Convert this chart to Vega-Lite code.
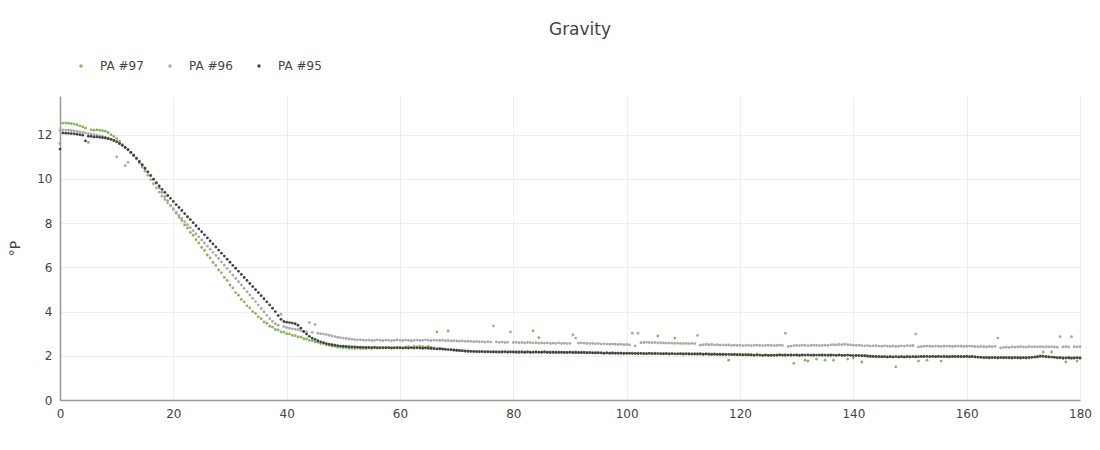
{
  "$schema": "https://vega.github.io/schema/vega-lite/v6.json",
  "autosize": {"type": "none"},
  "padding": {"left": 60, "top": 96, "right": 20, "bottom": 50},
  "width": 1020,
  "height": 304,
  "background": "white",
  "title": {"text": "Gravity", "fontSize": 17, "fontWeight": "normal", "color": "#444444", "font": "DejaVu Sans", "anchor": "middle", "dx": 10, "offset": 21},
  "config": {
    "view": {"stroke": null},
    "font": "DejaVu Sans",
    "axis": {"domainColor": "#999999", "domainWidth": 1.5, "gridColor": "#eeeeee", "ticks": false, "labelColor": "#444444", "labelFontSize": 12, "labelPadding": 8, "labelFlush": false, "titleColor": "#444444", "titleFontWeight": "normal", "titleFontSize": 14}
  },
  "data": {"values": [
{"t":0,"a":11.6,"b":12.2,"c":11.35},
{"t":0.5,"a":12.52,"b":12.22,"c":12.08},
{"t":1,"a":12.53,"b":12.21,"c":12.07},
{"t":1.5,"a":12.52,"b":12.2,"c":12.06},
{"t":2,"a":12.5,"b":12.19,"c":12.05},
{"t":2.5,"a":12.48,"b":12.17,"c":12.04},
{"t":3,"a":12.45,"b":12.15,"c":12.02},
{"t":3.5,"a":12.4,"b":12.13,"c":12.0},
{"t":4,"a":12.36,"b":12.1,"c":11.98},
{"t":4.5,"a":12.3,"b":12.08,"c":11.72},
{"t":5,"a":11.65,"b":12.05,"c":11.93},
{"t":5.5,"a":12.22,"b":12.03,"c":11.92},
{"t":6,"a":12.2,"b":12.0,"c":11.9},
{"t":6.5,"a":12.22,"b":11.98,"c":11.9},
{"t":7,"a":12.2,"b":11.95,"c":11.88},
{"t":7.5,"a":12.18,"b":11.92,"c":11.86},
{"t":8,"a":12.16,"b":11.88,"c":11.85},
{"t":8.5,"a":12.1,"b":11.84,"c":11.82},
{"t":9,"a":12.0,"b":11.79,"c":11.79},
{"t":9.5,"a":11.92,"b":11.73,"c":11.74},
{"t":10,"a":11.82,"b":11.0,"c":11.68},
{"t":10.5,"a":11.7,"b":11.6,"c":11.6},
{"t":11,"a":11.56,"b":11.52,"c":11.52},
{"t":11.5,"a":11.44,"b":10.6,"c":11.42},
{"t":12,"a":11.32,"b":10.75,"c":11.32},
{"t":12.5,"a":11.2,"b":11.2,"c":11.2},
{"t":13,"a":11.08,"b":11.05,"c":11.07},
{"t":13.5,"a":10.95,"b":10.9,"c":10.93},
{"t":14,"a":10.8,"b":10.72,"c":10.78},
{"t":14.5,"a":10.65,"b":10.54,"c":10.63},
{"t":15,"a":10.5,"b":10.35,"c":10.47},
{"t":15.5,"a":10.33,"b":10.16,"c":10.31},
{"t":16,"a":10.16,"b":9.97,"c":10.15},
{"t":16.5,"a":9.98,"b":9.78,"c":9.99},
{"t":17,"a":9.8,"b":9.59,"c":9.83},
{"t":17.5,"a":9.6,"b":9.4,"c":9.68},
{"t":18,"a":9.4,"b":9.22,"c":9.53},
{"t":18.5,"a":9.2,"b":9.07,"c":9.39},
{"t":19,"a":9.02,"b":8.92,"c":9.25},
{"t":19.5,"a":8.8,"b":8.78,"c":9.12},
{"t":20,"a":8.62,"b":8.65,"c":8.98},
{"t":20.5,"a":8.45,"b":8.5,"c":8.84},
{"t":21,"a":8.26,"b":8.35,"c":8.71},
{"t":21.5,"a":8.12,"b":8.21,"c":8.57},
{"t":22,"a":7.92,"b":8.07,"c":8.43},
{"t":22.5,"a":7.78,"b":7.93,"c":8.29},
{"t":23,"a":7.58,"b":7.8,"c":8.16},
{"t":23.5,"a":7.45,"b":7.66,"c":8.02},
{"t":24,"a":7.25,"b":7.52,"c":7.88},
{"t":24.5,"a":7.1,"b":7.38,"c":7.74},
{"t":25,"a":6.9,"b":7.24,"c":7.61},
{"t":25.5,"a":6.77,"b":7.1,"c":7.47},
{"t":26,"a":6.56,"b":6.96,"c":7.33},
{"t":26.5,"a":6.43,"b":6.82,"c":7.19},
{"t":27,"a":6.22,"b":6.68,"c":7.06},
{"t":27.5,"a":6.09,"b":6.54,"c":6.92},
{"t":28,"a":5.88,"b":6.4,"c":6.78},
{"t":28.5,"a":5.75,"b":6.25,"c":6.64},
{"t":29,"a":5.54,"b":6.1,"c":6.51},
{"t":29.5,"a":5.41,"b":5.95,"c":6.37},
{"t":30,"a":5.2,"b":5.8,"c":6.23},
{"t":30.5,"a":5.07,"b":5.65,"c":6.09},
{"t":31,"a":4.86,"b":5.5,"c":5.96},
{"t":31.5,"a":4.74,"b":5.35,"c":5.82},
{"t":32,"a":4.55,"b":5.2,"c":5.68},
{"t":32.5,"a":4.44,"b":5.05,"c":5.54},
{"t":33,"a":4.26,"b":4.9,"c":5.41},
{"t":33.5,"a":4.17,"b":4.75,"c":5.27},
{"t":34,"a":4.0,"b":4.6,"c":5.13},
{"t":34.5,"a":3.92,"b":4.45,"c":4.99},
{"t":35,"a":3.76,"b":4.3,"c":4.86},
{"t":35.5,"a":3.68,"b":4.14,"c":4.72},
{"t":36,"a":3.53,"b":3.98,"c":4.58},
{"t":36.5,"a":3.47,"b":3.83,"c":4.44},
{"t":37,"a":3.34,"b":3.68,"c":4.3},
{"t":37.5,"a":3.3,"b":3.56,"c":4.15},
{"t":38,"a":3.19,"b":3.45,"c":4.0},
{"t":38.5,"a":3.17,"b":3.38,"c":3.82},
{"t":39,"a":3.08,"b":3.88,"c":3.65},
{"t":39.5,"a":3.07,"b":3.32,"c":3.55},
{"t":40,"a":3.0,"b":3.28,"c":3.52},
{"t":40.5,"a":2.99,"b":3.25,"c":3.5},
{"t":41,"a":2.92,"b":3.22,"c":3.48},
{"t":41.5,"a":2.91,"b":3.2,"c":3.45},
{"t":42,"a":2.85,"b":3.18,"c":3.38},
{"t":42.5,"a":2.84,"b":3.14,"c":3.25},
{"t":43,"a":2.77,"b":3.1,"c":3.1},
{"t":43.5,"a":2.76,"b":3.08,"c":2.98},
{"t":44,"a":2.7,"b":3.5,"c":2.88},
{"t":44.5,"a":2.69,"b":3.06,"c":2.8},
{"t":45,"a":2.62,"b":3.42,"c":2.74},
{"t":45.5,"a":2.61,"b":3.02,"c":2.68},
{"t":46,"a":2.55,"b":3.0,"c":2.63},
{"t":46.5,"a":2.55,"b":2.98,"c":2.59},
{"t":47,"a":2.49,"b":2.96,"c":2.55},
{"t":47.5,"a":2.48,"b":2.93,"c":2.52},
{"t":48,"a":2.44,"b":2.9,"c":2.5},
{"t":48.5,"a":2.43,"b":2.87,"c":2.48},
{"t":49,"a":2.39,"b":2.84,"c":2.46},
{"t":49.5,"a":2.4,"b":2.82,"c":2.44},
{"t":50,"a":2.36,"b":2.8,"c":2.43},
{"t":50.5,"a":2.37,"b":2.78,"c":2.42},
{"t":51,"a":2.34,"b":2.76,"c":2.41},
{"t":51.5,"a":2.35,"b":2.75,"c":2.4},
{"t":52,"a":2.33,"b":2.73,"c":2.4},
{"t":52.5,"a":2.35,"b":2.72,"c":2.39},
{"t":53,"a":2.33,"b":2.72,"c":2.39},
{"t":53.5,"a":2.34,"b":2.71,"c":2.38},
{"t":54,"a":2.32,"b":2.7,"c":2.38},
{"t":54.5,"a":2.35,"b":2.71,"c":2.38},
{"t":55,"a":2.33,"b":2.69,"c":2.37},
{"t":55.5,"a":2.36,"b":2.7,"c":2.38},
{"t":56,"a":2.34,"b":2.72,"c":2.37},
{"t":56.5,"a":2.37,"b":2.7,"c":2.36},
{"t":57,"a":2.35,"b":2.69,"c":2.37},
{"t":57.5,"a":2.38,"b":2.71,"c":2.36},
{"t":58,"a":2.36,"b":2.7,"c":2.37},
{"t":58.5,"a":2.34,"b":2.68,"c":2.36},
{"t":59,"a":2.37,"b":2.7,"c":2.36},
{"t":59.5,"a":2.35,"b":2.72,"c":2.37},
{"t":60,"a":2.38,"b":2.7,"c":2.36},
{"t":60.5,"a":2.36,"b":2.69,"c":2.35},
{"t":61,"a":2.39,"b":2.71,"c":2.36},
{"t":61.5,"a":2.41,"b":2.7,"c":2.35},
{"t":62,"a":2.38,"b":2.68,"c":2.36},
{"t":62.5,"a":2.42,"b":2.7,"c":2.35},
{"t":63,"a":2.4,"b":2.71,"c":2.36},
{"t":63.5,"a":2.43,"b":2.69,"c":2.35},
{"t":64,"a":2.41,"b":2.7,"c":2.34},
{"t":64.5,"a":2.39,"b":2.72,"c":2.35},
{"t":65,"a":2.42,"b":2.7,"c":2.34},
{"t":65.5,"a":2.38,"b":2.69,"c":2.33},
{"t":66,"a":2.36,"b":2.71,"c":2.32},
{"t":66.5,"a":3.08,"b":2.7,"c":2.31},
{"t":67,"a":2.34,"b":2.69,"c":2.31},
{"t":67.5,"a":2.32,"b":2.7,"c":2.3},
{"t":68,"a":2.3,"b":2.68,"c":2.29},
{"t":68.5,"a":3.12,"b":2.69,"c":2.28},
{"t":69,"a":2.28,"b":2.67,"c":2.27},
{"t":69.5,"a":2.25,"b":2.68,"c":2.26},
{"t":70,"a":2.24,"b":2.67,"c":2.25},
{"t":70.5,"a":2.23,"b":2.66,"c":2.24},
{"t":71,"a":2.22,"b":2.67,"c":2.23},
{"t":71.5,"a":2.2,"b":2.65,"c":2.22},
{"t":72,"a":2.19,"b":2.66,"c":2.21},
{"t":72.5,"a":2.2,"b":2.65,"c":2.2},
{"t":73,"a":2.18,"b":2.64,"c":2.2},
{"t":73.5,"a":2.19,"b":2.65,"c":2.19},
{"t":74,"a":2.17,"b":2.63,"c":2.19},
{"t":74.5,"a":2.19,"b":2.64,"c":2.19},
{"t":75,"a":2.18,"b":2.62,"c":2.18},
{"t":75.5,"a":2.2,"b":2.63,"c":2.18},
{"t":76,"a":2.17,"b":2.62,"c":2.18},
{"t":76.5,"a":2.19,"b":3.35,"c":2.17},
{"t":77,"a":2.16,"b":2.63,"c":2.18},
{"t":77.5,"a":2.18,"b":2.61,"c":2.17},
{"t":78,"a":2.17,"b":2.62,"c":2.17},
{"t":78.5,"a":2.19,"b":2.6,"c":2.18},
{"t":79,"a":2.16,"b":2.61,"c":2.17},
{"t":79.5,"a":2.18,"b":3.08,"c":2.17},
{"t":80,"a":2.17,"b":2.6,"c":2.17},
{"t":80.5,"a":2.19,"b":2.61,"c":2.16},
{"t":81,"a":2.15,"b":2.59,"c":2.17},
{"t":81.5,"a":2.17,"b":2.6,"c":2.17},
{"t":82,"a":2.16,"b":2.58,"c":2.16},
{"t":82.5,"a":2.18,"b":2.6,"c":2.17},
{"t":83,"a":2.15,"b":2.59,"c":2.16},
{"t":83.5,"a":3.13,"b":2.58,"c":2.16},
{"t":84,"a":2.17,"b":2.59,"c":2.17},
{"t":84.5,"a":2.82,"b":2.57,"c":2.16},
{"t":85,"a":2.16,"b":2.58,"c":2.16},
{"t":85.5,"a":2.18,"b":2.57,"c":2.17},
{"t":86,"a":2.15,"b":2.58,"c":2.16},
{"t":86.5,"a":2.17,"b":2.56,"c":2.15},
{"t":87,"a":2.16,"b":2.57,"c":2.16},
{"t":87.5,"a":2.14,"b":2.56,"c":2.16},
{"t":88,"a":2.17,"b":2.58,"c":2.15},
{"t":88.5,"a":2.15,"b":2.56,"c":2.16},
{"t":89,"a":2.16,"b":2.57,"c":2.15},
{"t":89.5,"a":2.14,"b":2.55,"c":2.15},
{"t":90,"a":2.16,"b":2.56,"c":2.16},
{"t":90.5,"a":2.15,"b":2.94,"c":2.15},
{"t":91,"a":2.17,"b":2.8,"c":2.15},
{"t":91.5,"a":2.14,"b":2.57,"c":2.15},
{"t":92,"a":2.16,"b":2.58,"c":2.14},
{"t":92.5,"a":2.15,"b":2.57,"c":2.15},
{"t":93,"a":2.13,"b":2.56,"c":2.14},
{"t":93.5,"a":2.15,"b":2.55,"c":2.14},
{"t":94,"a":2.14,"b":2.56,"c":2.13},
{"t":94.5,"a":2.12,"b":2.54,"c":2.14},
{"t":95,"a":2.14,"b":2.55,"c":2.13},
{"t":95.5,"a":2.13,"b":2.53,"c":2.13},
{"t":96,"a":2.11,"b":2.54,"c":2.12},
{"t":96.5,"a":2.13,"b":2.53,"c":2.13},
{"t":97,"a":2.12,"b":2.52,"c":2.12},
{"t":97.5,"a":2.14,"b":2.53,"c":2.12},
{"t":98,"a":2.11,"b":2.52,"c":2.12},
{"t":98.5,"a":2.13,"b":2.51,"c":2.11},
{"t":99,"a":2.12,"b":2.52,"c":2.12},
{"t":99.5,"a":2.1,"b":2.5,"c":2.11},
{"t":100,"a":2.12,"b":2.51,"c":2.11},
{"t":100.5,"a":2.11,"b":2.49,"c":2.11},
{"t":101,"a":2.13,"b":3.02,"c":2.1},
{"t":101.5,"a":2.1,"b":2.45,"c":2.11},
{"t":102,"a":2.12,"b":3.02,"c":2.1},
{"t":102.5,"a":2.1,"b":2.59,"c":2.11},
{"t":103,"a":2.11,"b":2.6,"c":2.1},
{"t":103.5,"a":2.09,"b":2.61,"c":2.1},
{"t":104,"a":2.11,"b":2.6,"c":2.11},
{"t":104.5,"a":2.1,"b":2.59,"c":2.1},
{"t":105,"a":2.12,"b":2.6,"c":2.1},
{"t":105.5,"a":2.9,"b":2.58,"c":2.1},
{"t":106,"a":2.09,"b":2.59,"c":2.1},
{"t":106.5,"a":2.11,"b":2.58,"c":2.09},
{"t":107,"a":2.1,"b":2.57,"c":2.1},
{"t":107.5,"a":2.08,"b":2.58,"c":2.09},
{"t":108,"a":2.1,"b":2.57,"c":2.1},
{"t":108.5,"a":2.8,"b":2.56,"c":2.09},
{"t":109,"a":2.09,"b":2.57,"c":2.09},
{"t":109.5,"a":2.11,"b":2.56,"c":2.09},
{"t":110,"a":2.08,"b":2.55,"c":2.08},
{"t":110.5,"a":2.1,"b":2.56,"c":2.09},
{"t":111,"a":2.09,"b":2.55,"c":2.08},
{"t":111.5,"a":2.07,"b":2.56,"c":2.09},
{"t":112,"a":2.09,"b":2.55,"c":2.08},
{"t":112.5,"a":2.08,"b":2.92,"c":2.08},
{"t":113,"a":2.1,"b":2.48,"c":2.08},
{"t":113.5,"a":2.07,"b":2.5,"c":2.07},
{"t":114,"a":2.09,"b":2.51,"c":2.08},
{"t":114.5,"a":2.08,"b":2.5,"c":2.07},
{"t":115,"a":2.06,"b":2.51,"c":2.07},
{"t":115.5,"a":2.08,"b":2.49,"c":2.07},
{"t":116,"a":2.07,"b":2.5,"c":2.06},
{"t":116.5,"a":2.05,"b":2.48,"c":2.07},
{"t":117,"a":2.07,"b":2.49,"c":2.06},
{"t":117.5,"a":2.06,"b":2.48,"c":2.06},
{"t":118,"a":1.8,"b":2.49,"c":2.06},
{"t":118.5,"a":2.07,"b":2.47,"c":2.05},
{"t":119,"a":2.05,"b":2.48,"c":2.06},
{"t":119.5,"a":2.04,"b":2.47,"c":2.05},
{"t":120,"a":2.06,"b":2.48,"c":2.05},
{"t":120.5,"a":2.05,"b":2.46,"c":2.04},
{"t":121,"a":2.03,"b":2.47,"c":2.05},
{"t":121.5,"a":2.06,"b":2.48,"c":2.04},
{"t":122,"a":2.04,"b":2.46,"c":2.04},
{"t":122.5,"a":2.02,"b":2.47,"c":2.03},
{"t":123,"a":2.05,"b":2.48,"c":2.04},
{"t":123.5,"a":2.03,"b":2.47,"c":2.03},
{"t":124,"a":2.01,"b":2.46,"c":2.02},
{"t":124.5,"a":2.04,"b":2.47,"c":2.03},
{"t":125,"a":2.02,"b":2.48,"c":2.02},
{"t":125.5,"a":2.0,"b":2.47,"c":2.03},
{"t":126,"a":2.03,"b":2.46,"c":2.02},
{"t":126.5,"a":2.01,"b":2.47,"c":2.03},
{"t":127,"a":2.04,"b":2.48,"c":2.04},
{"t":127.5,"a":2.02,"b":2.47,"c":2.03},
{"t":128,"a":2.0,"b":3.02,"c":2.04},
{"t":128.5,"a":2.03,"b":2.42,"c":2.03},
{"t":129,"a":2.01,"b":2.44,"c":2.04},
{"t":129.5,"a":1.66,"b":2.46,"c":2.03},
{"t":130,"a":2.02,"b":2.47,"c":2.04},
{"t":130.5,"a":2.0,"b":2.46,"c":2.03},
{"t":131,"a":2.03,"b":2.48,"c":2.04},
{"t":131.5,"a":1.8,"b":2.47,"c":2.03},
{"t":132,"a":1.76,"b":2.46,"c":2.04},
{"t":132.5,"a":2.02,"b":2.47,"c":2.03},
{"t":133,"a":2.0,"b":2.48,"c":2.04},
{"t":133.5,"a":1.85,"b":2.47,"c":2.03},
{"t":134,"a":2.03,"b":2.46,"c":2.03},
{"t":134.5,"a":2.01,"b":2.47,"c":2.04},
{"t":135,"a":1.8,"b":2.48,"c":2.03},
{"t":135.5,"a":2.02,"b":2.47,"c":2.03},
{"t":136,"a":2.0,"b":2.49,"c":2.04},
{"t":136.5,"a":1.8,"b":2.5,"c":2.03},
{"t":137,"a":2.02,"b":2.49,"c":2.02},
{"t":137.5,"a":2.04,"b":2.51,"c":2.03},
{"t":138,"a":2.01,"b":2.5,"c":2.02},
{"t":138.5,"a":2.03,"b":2.52,"c":2.02},
{"t":139,"a":1.85,"b":2.5,"c":2.03},
{"t":139.5,"a":2.02,"b":2.49,"c":2.02},
{"t":140,"a":1.9,"b":2.48,"c":2.01},
{"t":140.5,"a":2.0,"b":2.47,"c":2.02},
{"t":141,"a":2.02,"b":2.48,"c":2.01},
{"t":141.5,"a":1.72,"b":2.46,"c":2.0},
{"t":142,"a":2.0,"b":2.45,"c":2.0},
{"t":142.5,"a":1.98,"b":2.46,"c":1.99},
{"t":143,"a":1.96,"b":2.44,"c":1.98},
{"t":143.5,"a":1.97,"b":2.45,"c":1.97},
{"t":144,"a":1.95,"b":2.46,"c":1.97},
{"t":144.5,"a":1.97,"b":2.44,"c":1.96},
{"t":145,"a":1.95,"b":2.43,"c":1.96},
{"t":145.5,"a":1.96,"b":2.45,"c":1.96},
{"t":146,"a":1.94,"b":2.44,"c":1.95},
{"t":146.5,"a":1.96,"b":2.43,"c":1.96},
{"t":147,"a":1.94,"b":2.44,"c":1.95},
{"t":147.5,"a":1.5,"b":2.42,"c":1.96},
{"t":148,"a":1.95,"b":2.43,"c":1.95},
{"t":148.5,"a":1.96,"b":2.45,"c":1.96},
{"t":149,"a":1.94,"b":2.44,"c":1.95},
{"t":149.5,"a":1.96,"b":2.46,"c":1.96},
{"t":150,"a":1.95,"b":2.45,"c":1.95},
{"t":150.5,"a":2.45,"b":2.47,"c":1.96},
{"t":151,"a":1.97,"b":2.98,"c":1.95},
{"t":151.5,"a":1.76,"b":2.4,"c":1.96},
{"t":152,"a":1.96,"b":2.42,"c":1.97},
{"t":152.5,"a":1.97,"b":2.43,"c":1.96},
{"t":153,"a":1.8,"b":2.44,"c":1.97},
{"t":153.5,"a":1.96,"b":2.43,"c":1.96},
{"t":154,"a":1.98,"b":2.42,"c":1.97},
{"t":154.5,"a":1.96,"b":2.44,"c":1.96},
{"t":155,"a":1.97,"b":2.43,"c":1.97},
{"t":155.5,"a":1.76,"b":2.42,"c":1.96},
{"t":156,"a":1.95,"b":2.43,"c":1.97},
{"t":156.5,"a":1.97,"b":2.44,"c":1.96},
{"t":157,"a":1.95,"b":2.43,"c":1.96},
{"t":157.5,"a":1.96,"b":2.42,"c":1.97},
{"t":158,"a":1.98,"b":2.43,"c":1.96},
{"t":158.5,"a":1.95,"b":2.44,"c":1.97},
{"t":159,"a":1.97,"b":2.43,"c":1.96},
{"t":159.5,"a":1.96,"b":2.42,"c":1.96},
{"t":160,"a":1.98,"b":2.43,"c":1.97},
{"t":160.5,"a":1.95,"b":2.44,"c":1.96},
{"t":161,"a":1.97,"b":2.43,"c":1.96},
{"t":161.5,"a":1.95,"b":2.42,"c":1.95},
{"t":162,"a":1.93,"b":2.41,"c":1.94},
{"t":162.5,"a":1.94,"b":2.42,"c":1.93},
{"t":163,"a":1.92,"b":2.41,"c":1.92},
{"t":163.5,"a":1.93,"b":2.4,"c":1.92},
{"t":164,"a":1.91,"b":2.42,"c":1.91},
{"t":164.5,"a":1.93,"b":2.41,"c":1.92},
{"t":165,"a":1.92,"b":2.42,"c":1.92},
{"t":165.5,"a":1.9,"b":2.8,"c":1.91},
{"t":166,"a":1.92,"b":2.36,"c":1.92},
{"t":166.5,"a":1.93,"b":2.38,"c":1.91},
{"t":167,"a":1.91,"b":2.39,"c":1.92},
{"t":167.5,"a":1.92,"b":2.38,"c":1.91},
{"t":168,"a":1.9,"b":2.4,"c":1.91},
{"t":168.5,"a":1.92,"b":2.39,"c":1.92},
{"t":169,"a":1.91,"b":2.4,"c":1.91},
{"t":169.5,"a":1.89,"b":2.41,"c":1.91},
{"t":170,"a":1.91,"b":2.4,"c":1.92},
{"t":170.5,"a":1.9,"b":2.39,"c":1.91},
{"t":171,"a":1.92,"b":2.41,"c":1.92},
{"t":171.5,"a":1.93,"b":2.4,"c":1.93},
{"t":172,"a":1.95,"b":2.41,"c":1.94},
{"t":172.5,"a":1.97,"b":2.4,"c":1.95},
{"t":173,"a":2.0,"b":2.41,"c":1.97},
{"t":173.5,"a":2.17,"b":2.4,"c":1.98},
{"t":174,"a":1.96,"b":2.41,"c":1.96},
{"t":174.5,"a":1.94,"b":2.4,"c":1.95},
{"t":175,"a":2.17,"b":2.41,"c":1.94},
{"t":175.5,"a":1.93,"b":2.4,"c":1.93},
{"t":176,"a":1.9,"b":2.39,"c":1.92},
{"t":176.5,"a":1.92,"b":2.86,"c":1.91},
{"t":177,"a":1.88,"b":2.4,"c":1.9},
{"t":177.5,"a":1.72,"b":2.41,"c":1.9},
{"t":178,"a":1.9,"b":2.4,"c":1.91},
{"t":178.5,"a":1.88,"b":2.86,"c":1.9},
{"t":179,"a":1.9,"b":2.41,"c":1.9},
{"t":179.5,"a":1.76,"b":2.4,"c":1.91},
{"t":180,"a":1.9,"b":2.41,"c":1.9}
  ]},
  "transform": [{"fold": ["a", "b", "c"], "as": ["series", "gravity"]}],
  "mark": {"type": "point", "filled": true, "size": 8, "opacity": 1},
  "encoding": {
    "x": {"field": "t", "type": "quantitative", "scale": {"domain": [0, 180], "nice": false}, "axis": {"title": null, "values": [0, 20, 40, 60, 80, 100, 120, 140, 160, 180]}},
    "y": {"field": "gravity", "type": "quantitative", "scale": {"domain": [0, 13.75], "nice": false}, "axis": {"title": "°P", "values": [0, 2, 4, 6, 8, 10, 12], "titlePadding": 14}},
    "color": {
      "field": "series", "type": "nominal",
      "scale": {"domain": ["a", "b", "c"], "range": ["#86b85c", "#aaaaaa", "#444444"]},
      "legend": {"title": null, "orient": "none", "direction": "horizontal", "legendX": 15, "legendY": -36, "padding": 0, "symbolSize": 12, "symbolType": "circle", "labelOffset": 13, "columnPadding": 20, "labelFontSize": 12, "labelColor": "#444444", "labelExpr": "datum.label == 'a' ? 'PA #97' : datum.label == 'b' ? 'PA #96' : 'PA #95'"}
    },
    "order": {"field": "series"}
  }
}
